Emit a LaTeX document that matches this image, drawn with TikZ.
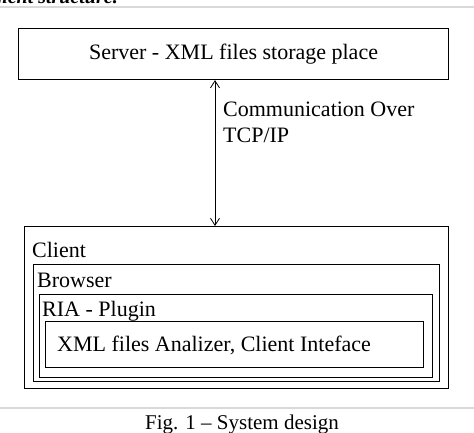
\documentclass[tikz,border=0pt]{standalone}
\usepackage{fontspec}
\setmainfont{Liberation Serif}
\usetikzlibrary{arrows.meta}

\begin{document}
\begin{tikzpicture}[x=1pt,y=-1pt,
  box/.style={draw,line width=1.1pt,inner sep=0pt,anchor=north west},
  lbl/.style={anchor=base west,inner sep=0pt,font=\fontsize{22}{26}\selectfont},
  pagerule/.style={black!15,line width=1.5pt},
  barb/.style={{Straight Barb[length=7pt,width=9pt]}-{Straight Barb[length=7pt,width=9pt]},line width=0.8pt}]
  \useasboundingbox (0,0) rectangle (474,433);

  %page text and rules
  \node[anchor=base west,inner sep=0pt,font=\fontsize{20}{24}\selectfont\bfseries\itshape] (heading) at (-8,4) {ment structure.};
  \coordinate (ruletopl) at (0,7);
  \coordinate (ruletopr) at (474,7);
  \draw[pagerule] (ruletopl) -- (ruletopr);
  \coordinate (rulebotl) at (0,408);
  \coordinate (rulebotr) at (474,408);
  \draw[pagerule] (rulebotl) -- (rulebotr);
  \node[anchor=base,inner sep=0pt,font=\fontsize{21}{24}\selectfont] (caption) at (242,429) {Fig. 1 -- System design};

  %server
  \node[box,minimum width=430pt,minimum height=51pt,font=\fontsize{22}{26}\selectfont] (server) at (18,28) {Server - XML files storage place};

  %client with nested boxes
  \node[box,minimum width=424pt,minimum height=162pt] (client) at (24,226) {};
  \node[box,minimum width=406pt,minimum height=117pt] (browser) at (33,264) {};
  \node[box,minimum width=393pt,minimum height=83pt] (plugin) at (39,294) {};
  \node[box,minimum width=378pt,minimum height=46pt] (analizer) at (45,321) {};
  \node[lbl] (clienttxt) at (32,257) {Client};
  \node[lbl] (browsertxt) at (37,287) {Browser};
  \node[lbl] (plugintxt) at (42,316) {RIA - Plugin};
  \node[lbl] (analizertxt) at (57,351) {XML files Analizer, Client Inteface};

  %link between server and client
  \coordinate (link) at (215,0);
  \draw[barb] (server.south -| link) -- (client.north -| link);
  \node[lbl,align=left] (linktxt) at (223,142.7) {Communication Over\\TCP/IP};
\end{tikzpicture}
\end{document}
